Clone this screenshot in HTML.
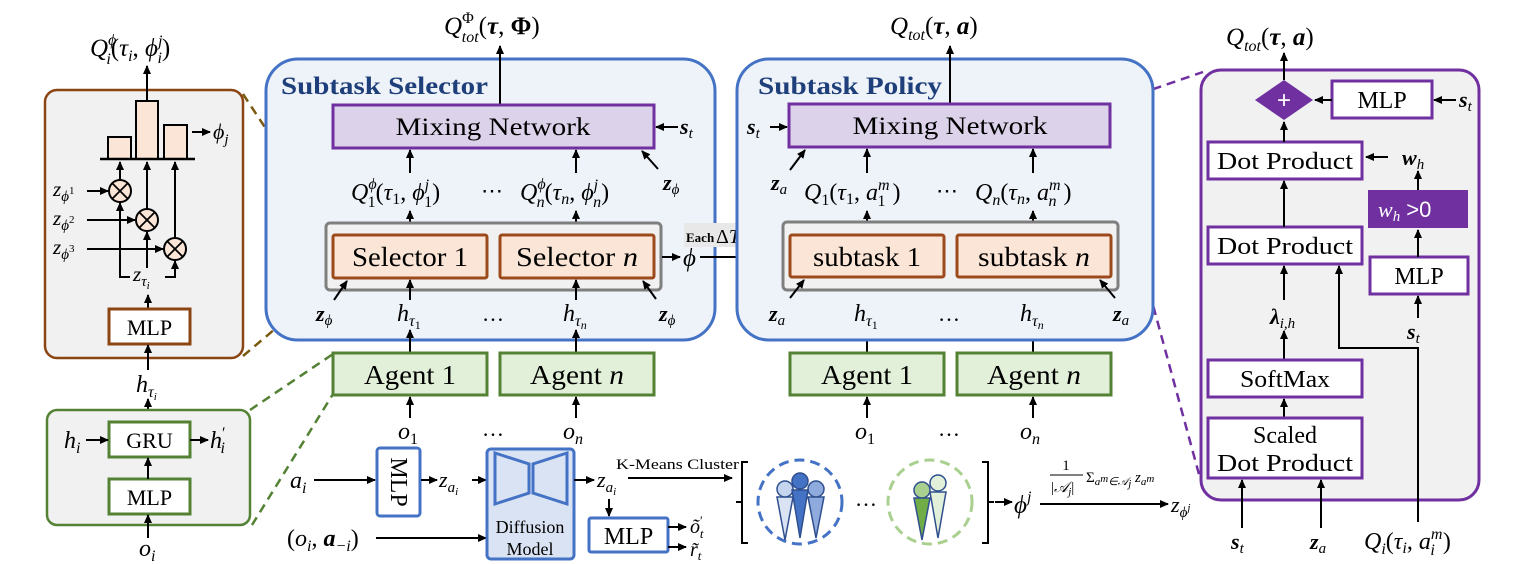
<!DOCTYPE html>
<html><head><meta charset="utf-8"><style>
body{margin:0;background:#fff}
svg{display:block}
.t{font-family:"Liberation Serif",serif;fill:#000}
.m{font-family:"Liberation Serif",serif;font-style:italic;fill:#000}
.n{font-style:normal}
.b{font-weight:bold}
</style></head><body>
<svg width="1524" height="564" viewBox="0 0 1524 564" xmlns="http://www.w3.org/2000/svg">
<defs>
<marker id="a" markerWidth="9" markerHeight="8" refX="8" refY="4" orient="auto" markerUnits="userSpaceOnUse"><path d="M0,0 L9,4 L0,8 z" fill="#000"/></marker>
</defs>

<g fill="none" stroke-width="2.5" stroke-dasharray="9,6">
<line x1="243" y1="94" x2="328" y2="223" stroke="#7a5a10"/>
<line x1="243" y1="356" x2="333" y2="280" stroke="#7a5a10"/>
<line x1="250" y1="410" x2="333" y2="354" stroke="#548235"/>
<line x1="252" y1="525" x2="333" y2="394" stroke="#548235"/>
<line x1="1110" y1="104" x2="1203" y2="72" stroke="#7030a0"/>
<line x1="1110" y1="147" x2="1200" y2="478" stroke="#7030a0"/>
</g>

<!-- left brown panel -->
<rect x="45" y="90" width="198" height="268" rx="12" fill="#f1f1f1" stroke="#8b4513" stroke-width="2.5"/>
<g stroke="#000" stroke-width="2" fill="#fbe5d6">
<rect x="108" y="137" width="23" height="22"/>
<rect x="136" y="101" width="22" height="58"/>
<rect x="164" y="125" width="23" height="34"/>
</g>
<line x1="100" y1="159" x2="195" y2="159" stroke="#000" stroke-width="2.5"/>
<line x1="147" y1="101" x2="147" y2="66" stroke="#000" stroke-width="2" marker-end="url(#a)"/>
<line x1="192" y1="132" x2="210" y2="132" stroke="#000" stroke-width="2" marker-end="url(#a)"/>
<text class="m" x="213" y="139" font-size="22">ϕ<tspan font-size="15" dy="5">j</tspan></text>
<text class="m" x="90" y="56" font-size="25">Q<tspan font-size="16" dy="-11">ϕ</tspan><tspan font-size="16" dx="-10" dy="19">i</tspan><tspan class="n" dy="-8">(</tspan>τ<tspan font-size="16" dy="5">i</tspan><tspan class="n" dy="-5">, </tspan>ϕ<tspan font-size="16" dy="-10">j</tspan><tspan font-size="16" dx="-5" dy="17">i</tspan><tspan class="n" dy="-7">)</tspan></text>
<g stroke="#000" stroke-width="2" fill="none">
<line x1="120" y1="180" x2="120" y2="162" marker-end="url(#a)"/>
<line x1="147" y1="209" x2="147" y2="162" marker-end="url(#a)"/>
<line x1="175" y1="238" x2="175" y2="162" marker-end="url(#a)"/>
<polyline points="130,277 120,277 120,203" marker-end="url(#a)"/>
<line x1="147" y1="268" x2="147" y2="232" marker-end="url(#a)"/>
<polyline points="165,277 175,277 175,261" marker-end="url(#a)"/>
<line x1="87" y1="191" x2="108" y2="191" marker-end="url(#a)"/>
<line x1="87" y1="220" x2="135" y2="220" marker-end="url(#a)"/>
<line x1="87" y1="249" x2="163" y2="249" marker-end="url(#a)"/>
</g>
<g stroke="#000" stroke-width="2" fill="#fbe5d6">
<circle cx="120" cy="191" r="11"/><circle cx="147" cy="220" r="11"/><circle cx="175" cy="249" r="11"/>
</g>
<g stroke="#000" stroke-width="1.8">
<line x1="112" y1="183" x2="128" y2="199"/><line x1="128" y1="183" x2="112" y2="199"/>
<line x1="139" y1="212" x2="155" y2="228"/><line x1="155" y1="212" x2="139" y2="228"/>
<line x1="167" y1="241" x2="183" y2="257"/><line x1="183" y1="241" x2="167" y2="257"/>
</g>
<text class="m" x="53" y="196" font-size="21">z<tspan font-size="15" dy="5">ϕ</tspan><tspan font-size="11" dy="-7" class="n">1</tspan></text>
<text class="m" x="53" y="225" font-size="21">z<tspan font-size="15" dy="5">ϕ</tspan><tspan font-size="11" dy="-7" class="n">2</tspan></text>
<text class="m" x="53" y="254" font-size="21">z<tspan font-size="15" dy="5">ϕ</tspan><tspan font-size="11" dy="-7" class="n">3</tspan></text>
<text class="m" x="133" y="281" font-size="21">z<tspan font-size="15" dy="5">τ</tspan><tspan font-size="11" dy="3">i</tspan></text>
<line x1="148" y1="309" x2="148" y2="295" stroke="#000" stroke-width="2" marker-end="url(#a)"/>
<rect x="109" y="309" width="81" height="35" fill="#fff" stroke="#8b4513" stroke-width="3"/>
<text class="t" x="149.5" y="335" font-size="22" text-anchor="middle">MLP</text>
<line x1="148" y1="370" x2="148" y2="345" stroke="#000" stroke-width="2" marker-end="url(#a)"/>
<text class="m" x="136" y="392" font-size="24">h<tspan font-size="16" dy="5">τ</tspan><tspan font-size="11" dy="3">i</tspan></text>
<line x1="148" y1="422" x2="148" y2="399" stroke="#000" stroke-width="2" marker-end="url(#a)"/>

<!-- left green panel -->
<rect x="47" y="410" width="203" height="115" rx="10" fill="#f1f1f1" stroke="#548235" stroke-width="2.5"/>
<rect x="109" y="422" width="81" height="35" fill="#fff" stroke="#548235" stroke-width="3"/>
<text class="t" x="149.5" y="448" font-size="22" text-anchor="middle">GRU</text>
<rect x="109" y="479" width="81" height="35" fill="#fff" stroke="#548235" stroke-width="3"/>
<text class="t" x="149.5" y="505" font-size="22" text-anchor="middle">MLP</text>
<line x1="148" y1="479" x2="148" y2="458" stroke="#000" stroke-width="2" marker-end="url(#a)"/>
<line x1="148" y1="538" x2="148" y2="515" stroke="#000" stroke-width="2" marker-end="url(#a)"/>
<line x1="86" y1="440" x2="108" y2="440" stroke="#000" stroke-width="2" marker-end="url(#a)"/>
<line x1="190" y1="440" x2="208" y2="440" stroke="#000" stroke-width="2" marker-end="url(#a)"/>
<text class="m" x="64" y="448" font-size="24">h<tspan font-size="16" dy="5">i</tspan></text>
<text class="m" x="210" y="448" font-size="24">h<tspan font-size="16" dy="-10" class="n">′</tspan><tspan font-size="16" dx="-5" dy="15">i</tspan></text>
<text class="m" x="139" y="556" font-size="24">o<tspan font-size="16" dy="5">i</tspan></text>

<!-- Subtask Selector panel -->
<rect x="266" y="59" width="449" height="281" rx="32" fill="#eef3fa" stroke="#4472c4" stroke-width="3"/>
<text class="t b" x="281" y="94" font-size="25" style="fill:#1f3f7a" textLength="207" lengthAdjust="spacingAndGlyphs">Subtask Selector</text>
<line x1="500" y1="105" x2="500" y2="46" stroke="#000" stroke-width="2" marker-end="url(#a)"/>
<text class="m" x="444" y="34" font-size="25">Q<tspan font-size="16" dy="-11" class="n">Φ</tspan><tspan font-size="16" dx="-12" dy="19">tot</tspan><tspan class="n" dy="-8">(</tspan><tspan class="b">τ</tspan><tspan class="n">, </tspan><tspan class="n b">Φ</tspan><tspan class="n">)</tspan></text>
<rect x="333" y="105" width="321" height="43" fill="#dcd3ea" stroke="#7030a0" stroke-width="3"/>
<text class="t" x="493" y="135" font-size="25" text-anchor="middle" textLength="195" lengthAdjust="spacingAndGlyphs">Mixing Network</text>
<line x1="678" y1="127" x2="656" y2="127" stroke="#000" stroke-width="2" marker-end="url(#a)"/>
<text class="m b" x="680" y="134" font-size="22">s<tspan font-size="15" dy="4" style="font-weight:normal">t</tspan></text>
<line x1="658" y1="169" x2="642" y2="151" stroke="#000" stroke-width="2" marker-end="url(#a)"/>
<text class="m b" x="663" y="190" font-size="22">z<tspan font-size="15" dy="4" style="font-weight:normal">ϕ</tspan></text>
<line x1="410" y1="173" x2="410" y2="150" stroke="#000" stroke-width="2" marker-end="url(#a)"/>
<line x1="576" y1="173" x2="576" y2="150" stroke="#000" stroke-width="2" marker-end="url(#a)"/>
<text class="m" x="351" y="200" font-size="24">Q<tspan font-size="16" dy="-11">ϕ</tspan><tspan font-size="16" dx="-9" dy="18" class="n">1</tspan><tspan class="n" dy="-7">(</tspan>τ<tspan font-size="16" dy="4" class="n">1</tspan><tspan class="n" dy="-4">, </tspan>ϕ<tspan font-size="16" dy="-10">j</tspan><tspan font-size="16" dx="-5" dy="17" class="n">1</tspan><tspan class="n" dy="-7">)</tspan></text>
<text class="t" x="481" y="198" font-size="22">⋯</text>
<text class="m" x="520" y="200" font-size="24">Q<tspan font-size="16" dy="-11">ϕ</tspan><tspan font-size="16" dx="-9" dy="18">n</tspan><tspan class="n" dy="-7">(</tspan>τ<tspan font-size="16" dy="4">n</tspan><tspan class="n" dy="-4">, </tspan>ϕ<tspan font-size="16" dy="-10">j</tspan><tspan font-size="16" dx="-5" dy="17">n</tspan><tspan class="n" dy="-7">)</tspan></text>
<line x1="410" y1="235" x2="410" y2="211" stroke="#000" stroke-width="2" marker-end="url(#a)"/>
<line x1="576" y1="235" x2="576" y2="211" stroke="#000" stroke-width="2" marker-end="url(#a)"/>
<rect x="326" y="223" width="335" height="67" rx="4" fill="#f1f1f1" stroke="#7f7f7f" stroke-width="3"/>
<rect x="333" y="235" width="154" height="43" rx="2" fill="#fbe5d6" stroke="#9c4a1c" stroke-width="3"/>
<text class="t" x="410" y="266" font-size="27" text-anchor="middle" textLength="116" lengthAdjust="spacingAndGlyphs">Selector 1</text>
<rect x="500" y="235" width="154" height="43" rx="2" fill="#fbe5d6" stroke="#9c4a1c" stroke-width="3"/>
<text class="t" x="577" y="266" font-size="27" text-anchor="middle" textLength="122" lengthAdjust="spacingAndGlyphs">Selector <tspan class="m">n</tspan></text>
<line x1="662" y1="257" x2="680" y2="257" stroke="#000" stroke-width="2" marker-end="url(#a)"/>
<text class="m" x="683" y="266" font-size="25">ϕ</text>
<line x1="334" y1="300" x2="347" y2="281" stroke="#000" stroke-width="2" marker-end="url(#a)"/>
<text class="m b" x="316" y="321" font-size="22">z<tspan font-size="15" dy="4" style="font-weight:normal">ϕ</tspan></text>
<line x1="656" y1="299" x2="643" y2="281" stroke="#000" stroke-width="2" marker-end="url(#a)"/>
<text class="m b" x="659" y="321" font-size="22">z<tspan font-size="15" dy="4" style="font-weight:normal">ϕ</tspan></text>
<text class="m" x="397" y="321" font-size="24">h<tspan font-size="16" dy="5">τ</tspan><tspan font-size="12" dy="3" class="n">1</tspan></text>
<text class="t" x="482" y="321" font-size="22">…</text>
<text class="m" x="563" y="321" font-size="24">h<tspan font-size="16" dy="5">τ</tspan><tspan font-size="12" dy="3">n</tspan></text>
<g stroke="#000" stroke-width="2" marker-end="url(#a)">
<line x1="410" y1="300" x2="410" y2="280"/><line x1="576" y1="300" x2="576" y2="280"/>
<line x1="410" y1="352" x2="410" y2="330"/><line x1="576" y1="352" x2="576" y2="330"/>
<line x1="410" y1="418" x2="410" y2="397"/><line x1="576" y1="418" x2="576" y2="397"/>
<line x1="867" y1="300" x2="867" y2="280"/><line x1="1033" y1="300" x2="1033" y2="280"/>
<line x1="867" y1="352" x2="867" y2="330"/><line x1="1033" y1="352" x2="1033" y2="330"/>
<line x1="867" y1="418" x2="867" y2="397"/><line x1="1033" y1="418" x2="1033" y2="397"/>
</g>
<rect x="333" y="353" width="154" height="42" fill="#e2f0d9" stroke="#548235" stroke-width="3"/>
<text class="t" x="410" y="384" font-size="27" text-anchor="middle" textLength="92" lengthAdjust="spacingAndGlyphs">Agent 1</text>
<rect x="500" y="353" width="154" height="42" fill="#e2f0d9" stroke="#548235" stroke-width="3"/>
<text class="t" x="577" y="384" font-size="27" text-anchor="middle" textLength="94" lengthAdjust="spacingAndGlyphs">Agent <tspan class="m">n</tspan></text>
<text class="m" x="398" y="439" font-size="24">o<tspan font-size="16" dy="5" class="n">1</tspan></text>
<text class="t" x="482" y="436" font-size="22">…</text>
<text class="m" x="563" y="439" font-size="24">o<tspan font-size="16" dy="5">n</tspan></text>

<rect x="684" y="223" width="52" height="24" fill="#e8e8e8"/>
<text class="t b" x="686" y="242" font-size="13">Each</text>
<text class="m" x="716" y="243" font-size="20"><tspan class="n">Δ</tspan>T</text>
<line x1="700" y1="257" x2="781" y2="257" stroke="#000" stroke-width="2" marker-end="url(#a)"/>

<!-- Subtask Policy panel -->
<rect x="737" y="59" width="416" height="281" rx="32" fill="#eef3fa" stroke="#4472c4" stroke-width="3"/>
<text class="t b" x="758" y="94" font-size="25" style="fill:#1f3f7a" textLength="184" lengthAdjust="spacingAndGlyphs">Subtask Policy</text>
<line x1="950" y1="104" x2="950" y2="46" stroke="#000" stroke-width="2" marker-end="url(#a)"/>
<text class="m" x="890" y="34" font-size="25">Q<tspan font-size="16" dy="6">tot</tspan><tspan class="n" dy="-6">(</tspan><tspan class="b">τ</tspan><tspan class="n">, </tspan><tspan class="b">a</tspan><tspan class="n">)</tspan></text>
<rect x="789" y="104" width="321" height="43" fill="#dcd3ea" stroke="#7030a0" stroke-width="3"/>
<text class="t" x="950" y="134" font-size="25" text-anchor="middle" textLength="195" lengthAdjust="spacingAndGlyphs">Mixing Network</text>
<text class="m b" x="747" y="134" font-size="22">s<tspan font-size="15" dy="4" style="font-weight:normal">t</tspan></text>
<line x1="770" y1="127" x2="787" y2="127" stroke="#000" stroke-width="2" marker-end="url(#a)"/>
<line x1="790" y1="170" x2="805" y2="150" stroke="#000" stroke-width="2" marker-end="url(#a)"/>
<text class="m b" x="771" y="190" font-size="22">z<tspan font-size="15" dy="4" style="font-weight:normal">a</tspan></text>
<line x1="867" y1="173" x2="867" y2="149" stroke="#000" stroke-width="2" marker-end="url(#a)"/>
<line x1="1033" y1="173" x2="1033" y2="149" stroke="#000" stroke-width="2" marker-end="url(#a)"/>
<text class="m" x="804" y="200" font-size="24">Q<tspan font-size="16" dy="5" class="n">1</tspan><tspan class="n" dy="-5">(</tspan>τ<tspan font-size="16" dy="4" class="n">1</tspan><tspan class="n" dy="-4">, </tspan>a<tspan font-size="16" dy="-10">m</tspan><tspan font-size="16" dx="-12" dy="16" class="n">1</tspan><tspan class="n" dx="7" dy="-6">)</tspan></text>
<text class="t" x="936" y="198" font-size="22">⋯</text>
<text class="m" x="975" y="200" font-size="24">Q<tspan font-size="16" dy="5">n</tspan><tspan class="n" dy="-5">(</tspan>τ<tspan font-size="16" dy="4">n</tspan><tspan class="n" dy="-4">, </tspan>a<tspan font-size="16" dy="-10">m</tspan><tspan font-size="16" dx="-12" dy="16">n</tspan><tspan class="n" dx="7" dy="-6">)</tspan></text>
<line x1="867" y1="235" x2="867" y2="211" stroke="#000" stroke-width="2" marker-end="url(#a)"/>
<line x1="1033" y1="235" x2="1033" y2="211" stroke="#000" stroke-width="2" marker-end="url(#a)"/>
<rect x="783" y="222" width="335" height="68" rx="4" fill="#f1f1f1" stroke="#7f7f7f" stroke-width="3"/>
<rect x="790" y="235" width="154" height="42" rx="2" fill="#fbe5d6" stroke="#9c4a1c" stroke-width="3"/>
<text class="t" x="867" y="266" font-size="27" text-anchor="middle" textLength="108" lengthAdjust="spacingAndGlyphs">subtask 1</text>
<rect x="957" y="235" width="154" height="42" rx="2" fill="#fbe5d6" stroke="#9c4a1c" stroke-width="3"/>
<text class="t" x="1034" y="266" font-size="27" text-anchor="middle" textLength="112" lengthAdjust="spacingAndGlyphs">subtask <tspan class="m">n</tspan></text>
<line x1="790" y1="298" x2="804" y2="280" stroke="#000" stroke-width="2" marker-end="url(#a)"/>
<text class="m b" x="769" y="321" font-size="22">z<tspan font-size="15" dy="4" style="font-weight:normal">a</tspan></text>
<line x1="1115" y1="298" x2="1100" y2="280" stroke="#000" stroke-width="2" marker-end="url(#a)"/>
<text class="m b" x="1113" y="321" font-size="22">z<tspan font-size="15" dy="4" style="font-weight:normal">a</tspan></text>
<text class="m" x="854" y="321" font-size="24">h<tspan font-size="16" dy="5">τ</tspan><tspan font-size="12" dy="3" class="n">1</tspan></text>
<text class="t" x="938" y="321" font-size="22">…</text>
<text class="m" x="1020" y="321" font-size="24">h<tspan font-size="16" dy="5">τ</tspan><tspan font-size="12" dy="3">n</tspan></text>
<rect x="790" y="353" width="154" height="42" fill="#e2f0d9" stroke="#548235" stroke-width="3"/>
<text class="t" x="867" y="384" font-size="27" text-anchor="middle" textLength="92" lengthAdjust="spacingAndGlyphs">Agent 1</text>
<rect x="957" y="353" width="154" height="42" fill="#e2f0d9" stroke="#548235" stroke-width="3"/>
<text class="t" x="1034" y="384" font-size="27" text-anchor="middle" textLength="94" lengthAdjust="spacingAndGlyphs">Agent <tspan class="m">n</tspan></text>
<text class="m" x="855" y="439" font-size="24">o<tspan font-size="16" dy="5" class="n">1</tspan></text>
<text class="t" x="938" y="436" font-size="22">…</text>
<text class="m" x="1020" y="439" font-size="24">o<tspan font-size="16" dy="5">n</tspan></text>

<!-- bottom pipeline -->
<text class="m" x="290" y="488" font-size="24">a<tspan font-size="16" dy="5">i</tspan></text>
<line x1="314" y1="480" x2="375" y2="480" stroke="#000" stroke-width="2" marker-end="url(#a)"/>
<rect x="377" y="448" width="43" height="68" rx="3" fill="#fff" stroke="#4472c4" stroke-width="3"/>
<text class="t" x="0" y="0" font-size="24" text-anchor="middle" transform="translate(391,482) rotate(90)">MLP</text>
<line x1="421" y1="480" x2="437" y2="480" stroke="#000" stroke-width="2" marker-end="url(#a)"/>
<text class="m" x="439" y="487" font-size="22">z<tspan font-size="15" dy="5">a</tspan><tspan font-size="11" dy="3">i</tspan></text>
<line x1="472" y1="480" x2="486" y2="480" stroke="#000" stroke-width="2" marker-end="url(#a)"/>
<text class="m" x="287" y="546" font-size="24"><tspan class="n">(</tspan>o<tspan font-size="16" dy="5">i</tspan><tspan class="n" dy="-5">, </tspan><tspan class="b">a</tspan><tspan font-size="16" dy="5">−i</tspan><tspan class="n" dy="-5">)</tspan></text>
<line x1="376" y1="538" x2="486" y2="538" stroke="#000" stroke-width="2" marker-end="url(#a)"/>
<rect x="487" y="449" width="87" height="110" rx="4" fill="#dae3f3" stroke="#4472c4" stroke-width="3"/>
<path d="M495,453 L529,464 L529,493 L495,504 Z" fill="#dae3f3" stroke="#4472c4" stroke-width="3"/>
<path d="M567,453 L533,464 L533,493 L567,504 Z" fill="#dae3f3" stroke="#4472c4" stroke-width="3"/>
<text class="t" x="530" y="533" font-size="18" text-anchor="middle">Diffusion</text>
<text class="t" x="530" y="555" font-size="18" text-anchor="middle">Model</text>
<line x1="574" y1="480" x2="594" y2="480" stroke="#000" stroke-width="2" marker-end="url(#a)"/>
<text class="m" x="597" y="487" font-size="22">z<tspan font-size="15" dy="5">a</tspan><tspan font-size="11" dy="3">i</tspan></text>
<line x1="628" y1="478" x2="732" y2="478" stroke="#000" stroke-width="2" marker-end="url(#a)"/>
<text class="t" x="616" y="469" font-size="15" textLength="123" lengthAdjust="spacingAndGlyphs">K-Means Cluster</text>
<line x1="609" y1="499" x2="609" y2="516" stroke="#000" stroke-width="2" marker-end="url(#a)"/>
<rect x="589" y="518" width="79" height="34" rx="2" fill="#fff" stroke="#4472c4" stroke-width="3"/>
<text class="t" x="628.5" y="544" font-size="24" text-anchor="middle">MLP</text>
<line x1="668" y1="527" x2="686" y2="527" stroke="#000" stroke-width="2" marker-end="url(#a)"/>
<line x1="668" y1="547" x2="686" y2="547" stroke="#000" stroke-width="2" marker-end="url(#a)"/>
<text class="m" x="690" y="533" font-size="20">õ<tspan font-size="13" dy="-8" class="n">′</tspan><tspan font-size="13" dx="-3" dy="13">t</tspan></text>
<text class="m" x="690" y="556" font-size="20">r̃<tspan font-size="13" dy="4">t</tspan></text>

<path d="M748,462 L742,462 L742,543 L748,543 M742,502 L736,502" fill="none" stroke="#000" stroke-width="2"/>
<path d="M982,462 L988,462 L988,543 L982,543 M988,502 L994,502" fill="none" stroke="#000" stroke-width="2"/>
<circle cx="800" cy="502" r="42" fill="none" stroke="#4472c4" stroke-width="3" stroke-dasharray="10,6"/>
<circle cx="930" cy="502" r="42" fill="none" stroke="#a9d08e" stroke-width="3" stroke-dasharray="10,6"/>
<g stroke="#2f4f8f" stroke-width="1.5">
<path d="M777,497 L793,497 L785,540 Z" fill="#dae3f3"/><circle cx="785" cy="489" r="8" fill="#c5d5ee"/>
<path d="M808,497 L824,497 L816,538 Z" fill="#8faadc"/><circle cx="816" cy="489" r="8" fill="#8faadc"/>
<path d="M792,490 L808,490 L800,538 Z" fill="#4472c4"/><circle cx="800" cy="481" r="8" fill="#4472c4"/>
</g>
<g stroke="#2f4f8f" stroke-width="1.5">
<path d="M930,492 L946,492 L938,538 Z" fill="#e2f0d9"/><circle cx="938" cy="483" r="8" fill="#e2f0d9"/>
<path d="M914,498 L930,498 L922,540 Z" fill="#70ad47"/><circle cx="922" cy="490" r="8" fill="#a9d08e"/>
</g>
<text class="t" x="855" y="506" font-size="22">…</text>
<line x1="995" y1="502" x2="1012" y2="502" stroke="#000" stroke-width="2" marker-end="url(#a)"/>
<text class="m" x="1014" y="513" font-size="25">ϕ<tspan font-size="16" dy="-11">j</tspan></text>
<line x1="1040" y1="504" x2="1168" y2="504" stroke="#000" stroke-width="2" marker-end="url(#a)"/>
<text class="t" x="1066" y="470" font-size="15" text-anchor="middle">1</text>
<line x1="1050" y1="475" x2="1083" y2="475" stroke="#000" stroke-width="1"/>
<text class="m" x="1051" y="492" font-size="15"><tspan class="n">|</tspan>𝒜<tspan font-size="11" dy="3">j</tspan><tspan class="n" dy="-3">|</tspan></text>
<text class="m" x="1086" y="482" font-size="15"><tspan class="n">Σ</tspan><tspan font-size="11" dy="3">a<tspan dy="-3">m</tspan><tspan dy="3">∈𝒜</tspan><tspan dy="2">j</tspan></tspan><tspan dy="-5"> z</tspan><tspan font-size="11" dy="3">a<tspan dy="-3">m</tspan></tspan></text>
<text class="m" x="1171" y="512" font-size="22">z<tspan font-size="15" dy="5">ϕ</tspan><tspan font-size="11" dy="-6">j</tspan></text>

<!-- right purple panel -->
<rect x="1201" y="70" width="278" height="430" rx="20" fill="#f1f1f1" stroke="#7030a0" stroke-width="3"/>
<line x1="1284" y1="80" x2="1284" y2="53" stroke="#000" stroke-width="2" marker-end="url(#a)"/>
<text class="m" x="1226" y="45" font-size="25">Q<tspan font-size="16" dy="6">tot</tspan><tspan class="n" dy="-6">(</tspan><tspan class="b">τ</tspan><tspan class="n">, </tspan><tspan class="b">a</tspan><tspan class="n">)</tspan></text>
<path d="M1284,80 L1313,100 L1284,120 L1255,100 Z" fill="#7030a0"/>
<text x="1284" y="108" font-size="24" fill="#fff" text-anchor="middle" font-family="Liberation Sans, sans-serif">+</text>
<rect x="1332" y="81" width="100" height="37" fill="#fff" stroke="#7030a0" stroke-width="3"/>
<text class="t" x="1382" y="108" font-size="24" text-anchor="middle">MLP</text>
<line x1="1332" y1="100" x2="1315" y2="100" stroke="#000" stroke-width="2" marker-end="url(#a)"/>
<line x1="1456" y1="100" x2="1434" y2="100" stroke="#000" stroke-width="2" marker-end="url(#a)"/>
<text class="m b" x="1459" y="107" font-size="22">s<tspan font-size="15" dy="4" style="font-weight:normal">t</tspan></text>
<rect x="1208" y="142" width="154" height="37" fill="#fff" stroke="#7030a0" stroke-width="3"/>
<text class="t" x="1285" y="169" font-size="24" text-anchor="middle" textLength="136" lengthAdjust="spacingAndGlyphs">Dot Product</text>
<line x1="1284" y1="142" x2="1284" y2="122" stroke="#000" stroke-width="2" marker-end="url(#a)"/>
<line x1="1388" y1="157" x2="1366" y2="157" stroke="#000" stroke-width="2" marker-end="url(#a)"/>
<text class="m b" x="1402" y="165" font-size="22">w<tspan font-size="15" dy="4" style="font-weight:normal">h</tspan></text>
<rect x="1368" y="190" width="100" height="38" fill="#7030a0"/>
<text class="m" x="1378" y="217" font-size="22" style="fill:#fff">w<tspan font-size="15" dy="4">h</tspan><tspan class="n" dy="-4" font-family="Liberation Sans, sans-serif"> &gt;0</tspan></text>
<line x1="1418" y1="190" x2="1418" y2="171" stroke="#000" stroke-width="2" marker-end="url(#a)"/>
<rect x="1208" y="227" width="154" height="37" fill="#fff" stroke="#7030a0" stroke-width="3"/>
<text class="t" x="1285" y="254" font-size="24" text-anchor="middle" textLength="136" lengthAdjust="spacingAndGlyphs">Dot Product</text>
<line x1="1284" y1="227" x2="1284" y2="181" stroke="#000" stroke-width="2" marker-end="url(#a)"/>
<rect x="1370" y="257" width="98" height="37" fill="#fff" stroke="#7030a0" stroke-width="3"/>
<text class="t" x="1419" y="284" font-size="24" text-anchor="middle">MLP</text>
<line x1="1418" y1="257" x2="1418" y2="230" stroke="#000" stroke-width="2" marker-end="url(#a)"/>
<line x1="1418" y1="318" x2="1418" y2="296" stroke="#000" stroke-width="2" marker-end="url(#a)"/>
<text class="m b" x="1407" y="339" font-size="22">s<tspan font-size="15" dy="4" style="font-weight:normal">t</tspan></text>
<line x1="1284" y1="300" x2="1284" y2="266" stroke="#000" stroke-width="2" marker-end="url(#a)"/>
<text class="m b" x="1270" y="324" font-size="22">λ<tspan font-size="15" dy="4" style="font-weight:normal">i,h</tspan></text>
<line x1="1284" y1="360" x2="1284" y2="331" stroke="#000" stroke-width="2" marker-end="url(#a)"/>
<rect x="1208" y="360" width="154" height="37" fill="#fff" stroke="#7030a0" stroke-width="3"/>
<text class="t" x="1285" y="387" font-size="24" text-anchor="middle" textLength="90" lengthAdjust="spacingAndGlyphs">SoftMax</text>
<line x1="1284" y1="418" x2="1284" y2="399" stroke="#000" stroke-width="2" marker-end="url(#a)"/>
<rect x="1208" y="418" width="154" height="60" fill="#fff" stroke="#7030a0" stroke-width="3"/>
<text class="t" x="1285" y="443" font-size="24" text-anchor="middle">Scaled</text>
<text class="t" x="1285" y="471" font-size="24" text-anchor="middle" textLength="136" lengthAdjust="spacingAndGlyphs">Dot Product</text>
<polyline points="1418,522 1418,348 1339,348 1339,266" fill="none" stroke="#000" stroke-width="2" marker-end="url(#a)"/>
<line x1="1242" y1="528" x2="1242" y2="480" stroke="#000" stroke-width="2" marker-end="url(#a)"/>
<line x1="1321" y1="528" x2="1321" y2="480" stroke="#000" stroke-width="2" marker-end="url(#a)"/>
<text class="m b" x="1231" y="549" font-size="22">s<tspan font-size="15" dy="4" style="font-weight:normal">t</tspan></text>
<text class="m b" x="1310" y="549" font-size="22">z<tspan font-size="15" dy="4" style="font-weight:normal">a</tspan></text>
<text class="m" x="1364" y="549" font-size="24">Q<tspan font-size="16" dy="5">i</tspan><tspan class="n" dy="-5">(</tspan>τ<tspan font-size="16" dy="4">i</tspan><tspan class="n" dy="-4">, </tspan>a<tspan font-size="16" dy="-10">m</tspan><tspan font-size="16" dx="-12" dy="16">i</tspan><tspan class="n" dx="8" dy="-6">)</tspan></text>
</svg>
</body></html>
